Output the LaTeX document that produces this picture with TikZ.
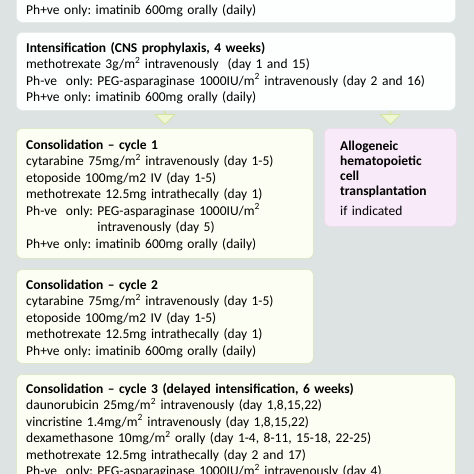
\documentclass[tikz,border=0pt]{standalone}
\usepackage{fontspec}
\setmainfont{Carlito}
\frenchspacing
\usetikzlibrary{shapes,positioning}

\definecolor{bggrey}{HTML}{DDE2E2}
\definecolor{whitefill}{HTML}{FDFEFE}
\definecolor{whiteline}{HTML}{E6EBEB}
\definecolor{consfill}{HTML}{FDFEF3}
\definecolor{consline}{HTML}{DCE8C6}
\definecolor{allofill}{HTML}{F8EAF8}
\definecolor{alloline}{HTML}{EEDCEE}
\definecolor{arrowfill}{HTML}{EEF6D2}
\definecolor{arrowline}{HTML}{D3E4A0}

\begin{document}
\begin{tikzpicture}[x=1pt,y=-1pt]
  \tikzset{
    box/.style={
      draw,
      line width=0.8pt,
      rounded corners=6pt,
      inner sep=0pt,
      anchor=north west
    },
    whitebox/.style={box, fill=whitefill, draw=whiteline},
    consbox/.style={box, fill=consfill, draw=consline},
    allobox/.style={box, fill=allofill, draw=alloline},
    txt/.style={
      inner sep=0pt,
      anchor=base west,
      text width=#1,
      align=left,
      font=\fontsize{13.5}{16.5}\selectfont
    },
    txt/.default=425pt,
    downarrow/.style={
      single arrow,
      shape border rotate=270,
      draw=arrowline,
      fill=arrowfill,
      line width=0.8pt,
      inner sep=0pt,
      minimum width=20pt,
      minimum height=13pt,
      single arrow head extend=6pt,
      anchor=tip
    }
  }

  \fill[bggrey] (0,0) rectangle (474,474);
  \clip (0,0) rectangle (474,474);
  \useasboundingbox (0,0) rectangle (474,474);

  % boxes
  \node[whitebox, minimum width=439pt, minimum height=42pt] (induc) at (16,-20) {};
  \node[whitebox, minimum width=439pt, minimum height=78pt] (intens) at (16,32) {};
  \node[consbox, minimum width=297pt, minimum height=130pt] (cons1) at (16,128) {};
  \node[allobox, minimum width=132pt, minimum height=98pt] (allo) at (324,128) {};
  \node[consbox, minimum width=297pt, minimum height=94pt] (cons2) at (16,269) {};
  \node[consbox, minimum width=439pt, minimum height=130pt] (cons3) at (16,374) {};

  % arrows
  \node[downarrow] (arrcons) at ([yshift=3pt]cons1.north) {};
  \node[downarrow] (arrallo) at ([yshift=3pt]allo.north) {};

  % texts
  \node[txt] (inductxt) at (26,14) {Ph+ve only: imatinib 600mg orally (daily)};
  \node[txt] (intenstxt) at (26,52) {\textbf{Intensification (CNS prophylaxis, 4 weeks)}\\
    methotrexate 3g/m\textsuperscript{2} intravenously\ \ (day 1 and 15)\\
    Ph-ve\ \ only: PEG-asparaginase 1000IU/m\textsuperscript{2} intravenously (day 2 and 16)\\
    Ph+ve only: imatinib 600mg orally (daily)};
  \node[txt=285pt] (cons1txt) at (26,149) {\textbf{Consolidation -- cycle 1}\\
    cytarabine 75mg/m\textsuperscript{2} intravenously (day 1-5)\\
    etoposide 100mg/m2 IV (day 1-5)\\
    methotrexate 12.5mg intrathecally (day 1)\\
    Ph-ve\ \ only: PEG-asparaginase 1000IU/m\textsuperscript{2}\\
    \phantom{Ph-ve\ \ only: }intravenously (day 5)\\
    Ph+ve only: imatinib 600mg orally (daily)};
  \node[txt=112pt] (allotxt) at (340,150) {\fontsize{13.5}{15.3}\selectfont\textbf{Allogeneic}\\
    \textbf{hematopoietic}\\
    \textbf{cell}\\
    \textbf{transplantation}\\[3.5pt]
    if indicated};
  \node[txt=285pt] (cons2txt) at (26,289) {\textbf{Consolidation -- cycle 2}\\
    cytarabine 75mg/m\textsuperscript{2} intravenously (day 1-5)\\
    etoposide 100mg/m2 IV (day 1-5)\\
    methotrexate 12.5mg intrathecally (day 1)\\
    Ph+ve only: imatinib 600mg orally (daily)};
  \node[txt] (cons3txt) at (26,393) {\textbf{Consolidation -- cycle 3 (delayed intensification, 6 weeks)}\\
    daunorubicin 25mg/m\textsuperscript{2} intravenously (day 1,8,15,22)\\
    vincristine 1.4mg/m\textsuperscript{2} intravenously (day 1,8,15,22)\\
    dexamethasone 10mg/m\textsuperscript{2} orally (day 1-4, 8-11, 15-18, 22-25)\\
    methotrexate 12.5mg intrathecally (day 2 and 17)\\
    Ph-ve\ \ only: PEG-asparaginase 1000IU/m\textsuperscript{2} intravenously (day 4)};

\end{tikzpicture}
\end{document}
